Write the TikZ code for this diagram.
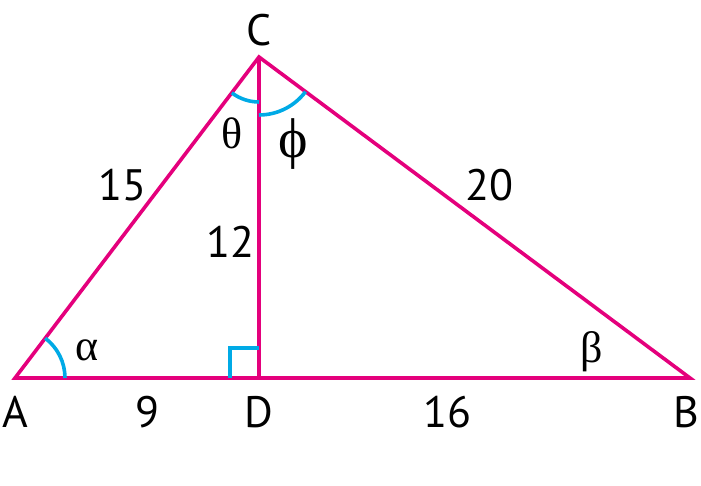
\documentclass[tikz,border=0pt]{standalone}
\usepackage{fontspec}
\setmainfont{PT Sans}
\newfontfamily\grkfont{Liberation Serif}
\usepackage{tikz}
\usetikzlibrary{calc}
\definecolor{trimag}{RGB}{228,0,124}
\definecolor{angblue}{RGB}{0,170,230}
\tikzset{
         side/.style={trimag,line width=3.6pt,line join=miter},
         angmark/.style={angblue,line width=3.6pt},
         lbl/.style={inner sep=0pt,font=\fontsize{44}{50}\selectfont},
         grk/.style={inner sep=0pt,font=\fontsize{44}{50}\selectfont\grkfont}
        }

\begin{document}
\begin{tikzpicture}[x=1pt,y=1pt]
    \useasboundingbox (0,0) rectangle (701,486); % page
    \coordinate (A) at (15,108); % vertex A
    \coordinate (B) at (690,108); % vertex B
    \coordinate (C) at (259,429); % vertex C
    \coordinate (D) at (259,108); % foot D
    \draw[side] (A) -- (B) -- (C) -- cycle; % triangle
    \draw[side] (C) -- (D); % altitude
    \draw[angmark] ($(A)+(50,0)$) arc[start angle=0,end angle=52.8,radius=50]; % alpha arc
    \draw[angmark] ($(C)+(232.8:45)$) arc[start angle=232.8,end angle=270,radius=45]; % theta arc
    \draw[angmark] ($(C)+(270:58)$) arc[start angle=270,end angle=323.3,radius=58]; % phi arc
    \draw[angmark] ($(D)+(-29,0)$) -- ++(0,30) -- ++(29,0); % right angle
    \node[lbl] (lA) at (15,74) {A}; % A label
    \node[lbl] (lB) at (686,74) {B}; % B label
    \node[lbl] (lC) at (259,456) {C}; % C label
    \node[lbl] (lD) at (259,74) {D}; % D label
    \node[lbl] (l9) at (147,74) {9}; % AD label
    \node[lbl] (l16) at (447,74) {16}; % DB label
    \node[lbl] (l15) at (122,301) {15}; % AC label
    \node[lbl] (l20) at (489,301) {20}; % CB label
    \node[lbl] (l12) at (230,244) {12}; % CD label
    \node[grk] (lth) at (232,353) {θ}; % theta label
    \node[grk,font=\fontsize{56}{60}\selectfont\grkfont] (lph) at (293,342) {ϕ}; % phi label
    \node[grk] (lal) at (87,136) {α}; % alpha label
    \node[grk] (lbe) at (592,134) {β}; % beta label
\end{tikzpicture}
\end{document}
